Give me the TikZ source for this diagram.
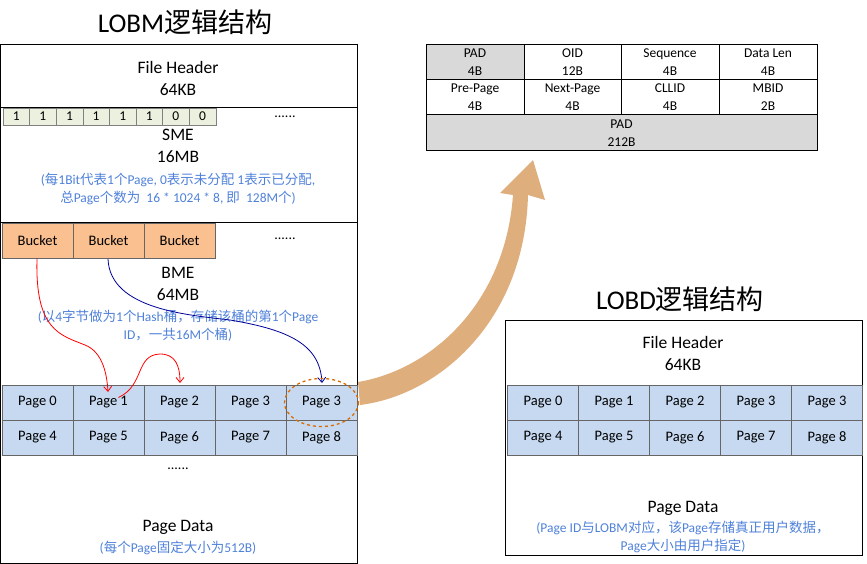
\documentclass[tikz,border=0pt]{standalone}
\usepackage{fontspec}
\setmainfont{Carlito}
\newfontfamily\cjk{Noto Sans CJK SC}
\newcommand{\zh}[1]{{\cjk #1}}
\usetikzlibrary{positioning,calc,arrows.meta}
\definecolor{pageblue}{HTML}{C6D9F1}
\definecolor{bucketor}{HTML}{FAC090}
\definecolor{bitgreen}{HTML}{EBF1DE}
\definecolor{padgrey}{HTML}{D9D9D9}
\definecolor{notetxt}{HTML}{4F81D9}
\definecolor{arrowtan}{HTML}{D9A066}
\tikzset{
  sect/.style={draw=black, line width=1pt},
  cell/.style={draw=gray!80!black, line width=0.9pt, minimum width=71pt, minimum height=35pt, inner sep=0pt, font=\fontsize{14.5}{15}\selectfont},
  page/.style={cell, fill=pageblue},
  bit/.style={draw=gray, fill=bitgreen, minimum width=26.6pt, minimum height=17pt, inner sep=0pt, font=\fontsize{13.5}{14}\selectfont},
  tcell/.style={inner sep=0pt, align=center, font=\fontsize{13.5}{17.5}\selectfont},
  lbl/.style={align=center, font=\fontsize{17.5}{22}\selectfont},
  note/.style={align=center, text=notetxt, font=\fontsize{13.5}{18}\selectfont},
  dots/.style={font=\fontsize{14}{15}\selectfont},
  title/.style={font=\fontsize{27}{28}\selectfont},
}
\begin{document}
\begin{tikzpicture}[x=1pt,y=-1pt]
\useasboundingbox (0,0) rectangle (867,563);
% LOBM
\node[title] (lobm) at (185,22) {LOBM\zh{逻辑结构}};
\draw[sect] (0,44) rectangle (357,563);
\draw[sect] (0,107) -- (357,107);
\draw[sect] (0,222) -- (357,222);
\node[lbl] (fh) at (178,78) {File Header\\64KB};
% SME bits
\foreach \b [count=\i from 0] in {1,1,1,1,1,1,0,0}
  \node[bit] (bit\i) at (16.3+\i*26.6,116.5) {\b};
\node[dots] (smedots) at (285,117) {......};
\node[lbl] (sme) at (178,146) {SME\\16MB};
\node[note] (smenote) at (178,189) {(\zh{每}1Bit\zh{代表}1\zh{个}Page, 0\zh{表示未分配} 1\zh{表示已分配},\\\zh{总}Page\zh{个数为}\ \ 16 * 1024 * 8, \zh{即}\ \ 128M\zh{个})};
% BME buckets
\foreach \i in {0,1,2}
  \node[cell, fill=bucketor] (bk\i) at (37.5+\i*71,241) {Bucket};
\node[dots] (bmedots) at (285,239) {......};
\node[lbl] (bme) at (178,284) {BME\\64MB};
\node[note] (bmenote) at (178,326) {(\zh{以}4\zh{字节做为}1\zh{个}Hash\zh{桶，存储该桶的第}1\zh{个}Page\\ID\zh{，一共}16M\zh{个桶})};
% page grid
\foreach \i in {0,...,4} {
  \node[page] (p\i) at (37.5+\i*71,402.5) {Page \ifnum\i=4 3\else\i\fi};
  \pgfmathtruncatemacro{\j}{\i+4}
  \node[page] (q\i) at (37.5+\i*71,437.5) {Page \j};
}
\node[dots] (pddots) at (178,469) {......};
\node[lbl] (pd) at (178,527) {Page Data};
\node[note] (pdnote) at (178,548) {(\zh{每个}Page\zh{固定大小为}512B)};
% links
\draw[red, -{Straight Barb[length=5pt,width=8pt]}, thick] (bk0.south -| 37,258) .. controls (35,330) and (60,335) .. (85,345) .. controls (103,352) and (107,375) .. (108,392);
\draw[red, -{Straight Barb[length=5pt,width=8pt]}, thick] (p1.center) ++(10,-5) .. controls (145,385) and (135,355) .. (160,354) .. controls (175,354) and (180,365) .. (180,383);
\draw[blue!60!black, -{Straight Barb[length=5pt,width=8pt]}, thick] (bk1.south -| 108,258) .. controls (110,310) and (190,315) .. (230,320) .. controls (290,330) and (320,345) .. (322,383);
\draw[orange!85!black, dashed, line width=1.3pt] (p4.center) ellipse (37 and 24);
% big arrow
\fill[arrowtan, opacity=0.85] (360,405) .. controls (440,395) and (525,320) .. (528,195) -- (545,200) -- (533,160) -- (500,193) -- (513,195) .. controls (505,305) and (430,370) .. (358,382) -- cycle;
% record table
\fill[padgrey] (426,44) rectangle (524,79);
\fill[padgrey] (426,114) rectangle (817,150);
\draw[line width=0.9pt] (426,44) rectangle (817,150);
\draw[line width=0.9pt] (426,79) -- (817,79) (426,114) -- (817,114);
\foreach \x in {524,621,719} \draw[line width=0.9pt] (\x,44) -- (\x,114);
\node[tcell] (tpad) at (475,62) {PAD\\4B};
\node[tcell] (toid) at (572.5,62) {OID\\12B};
\node[tcell] (tseq) at (670,62) {Sequence\\4B};
\node[tcell] (tlen) at (768,62) {Data Len\\4B};
\node[tcell] (tpre) at (475,97) {Pre-Page\\4B};
\node[tcell] (tnext) at (572.5,97) {Next-Page\\4B};
\node[tcell] (tcll) at (670,97) {CLLID\\4B};
\node[tcell] (tmb) at (768,97) {MBID\\2B};
\node[tcell] (tpad2) at (621.5,133) {PAD\\212B};
% LOBD
\node[title] (lobd) at (680,299) {LOBD\zh{逻辑结构}};
\draw[sect] (505,320) rectangle (862,555);
\node[lbl] (dfh) at (683,353) {File Header\\64KB};
\foreach \i in {0,...,4} {
  \node[page] (dp\i) at (543+\i*71,402.5) {Page \ifnum\i=4 3\else\i\fi};
  \pgfmathtruncatemacro{\j}{\i+4}
  \node[page] (dq\i) at (543+\i*71,437.5) {Page \j};
}
\node[lbl] (dpd) at (683,508) {Page Data};
\node[note] (dpdnote) at (683,537) {(Page ID\zh{与}LOBM\zh{对应，该}Page\zh{存储真正用户数据，}\\Page\zh{大小由用户指定})};
\end{tikzpicture}
\end{document}
